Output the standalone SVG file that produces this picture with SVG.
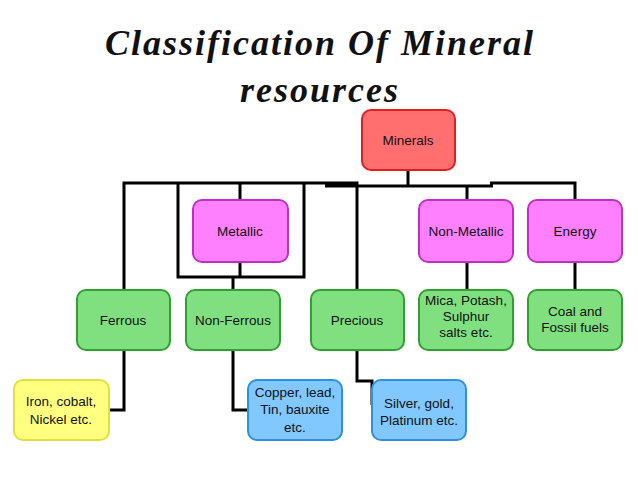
<svg xmlns="http://www.w3.org/2000/svg" width="638" height="479" viewBox="0 0 638 479">
<style>
.t{font-family:"Liberation Sans",Arial,sans-serif;font-size:13.5px;fill:#111;text-anchor:middle}
.h{font-family:"Liberation Serif","DejaVu Serif",serif;font-style:italic;font-weight:bold;font-size:36px;fill:#111;text-anchor:middle;letter-spacing:2px}
.c{fill:none;stroke:#000;stroke-width:3}
.r{fill:#ff6f6f;stroke:#e02020;stroke-width:2}
.m{fill:#ff80ff;stroke:#c030c0;stroke-width:2}
.g{fill:#80e080;stroke:#30a030;stroke-width:2}
.y{fill:#ffff80;stroke:#e0e040;stroke-width:2}
.b{fill:#80c8ff;stroke:#3090e0;stroke-width:2}
</style>
<rect width="638" height="479" fill="#fff"/>
<text class="h" x="320" y="55">Classification Of Mineral</text>
<text class="h" x="320" y="102">resources</text>
<g id="connectors">
<path class="c" d="M408,170V186M124,290V183H357V290M178,183V277H304V183M240,183V200M240,262V277M233,277V290M325,186H493M467,186V200M490,183H575V200M467,262V290M575,262V290M124,350V410H110M233,350V410H248M357,350V381H372V405"/>
</g>
<g id="minerals"><rect class="r" x="362" y="110" width="93" height="60" rx="9"/><text class="t" x="408" y="145">Minerals</text></g>
<g id="metallic"><rect class="m" x="193" y="200" width="95" height="62" rx="9"/><text class="t" x="240" y="236">Metallic</text></g>
<g id="nonmetallic"><rect class="m" x="419" y="200" width="94" height="62" rx="9"/><text class="t" x="466" y="236">Non-Metallic</text></g>
<g id="energy"><rect class="m" x="528" y="200" width="94" height="62" rx="9"/><text class="t" x="575" y="236">Energy</text></g>
<g id="ferrous"><rect class="g" x="77" y="290" width="93" height="60" rx="9"/><text class="t" x="123" y="325">Ferrous</text></g>
<g id="nonferrous"><rect class="g" x="186" y="290" width="94" height="60" rx="9"/><text class="t" x="233" y="325">Non-Ferrous</text></g>
<g id="precious"><rect class="g" x="311" y="290" width="93" height="60" rx="9"/><text class="t" x="357" y="325">Precious</text></g>
<g id="mica"><rect class="g" x="419" y="290" width="94" height="60" rx="9"/><text class="t" x="466" y="305">Mica, Potash,</text><text class="t" x="466" y="321">Sulphur</text><text class="t" x="466" y="337">salts etc.</text></g>
<g id="coal"><rect class="g" x="528" y="290" width="94" height="60" rx="9"/><text class="t" x="575" y="316">Coal and</text><text class="t" x="575" y="332">Fossil fuels</text></g>
<g id="iron"><rect class="y" x="14" y="380" width="95" height="60" rx="9"/><text class="t" x="61" y="406">Iron, cobalt,</text><text class="t" x="61" y="424">Nickel etc.</text></g>
<g id="copper"><rect class="b" x="248" y="380" width="94" height="60" rx="9"/><text class="t" x="295" y="397">Copper, lead,</text><text class="t" x="295" y="414">Tin, bauxite</text><text class="t" x="295" y="432">etc.</text></g>
<g id="silver"><rect class="b" x="372" y="380" width="94" height="60" rx="9"/><text class="t" x="419" y="408">Silver, gold,</text><text class="t" x="419" y="425">Platinum etc.</text></g>
</svg>
